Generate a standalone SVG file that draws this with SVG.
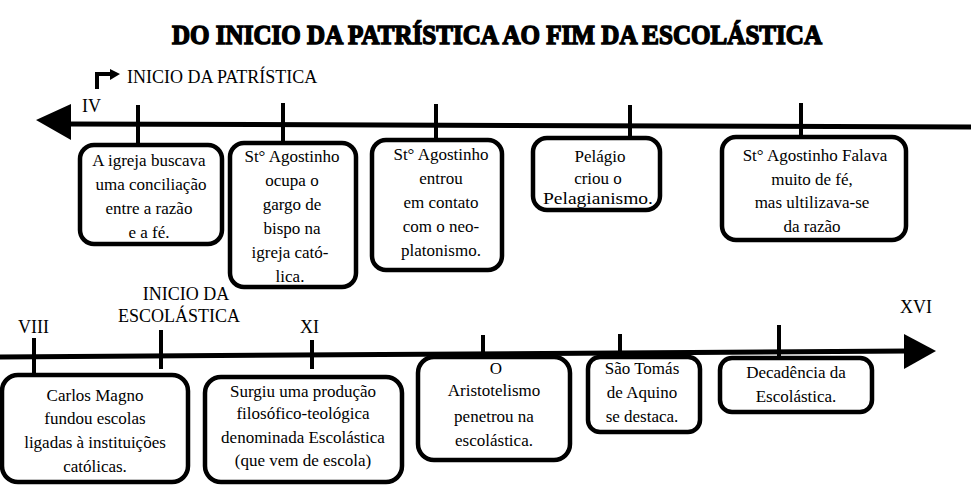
<svg xmlns="http://www.w3.org/2000/svg" width="971" height="487" viewBox="0 0 971 487">
<style>
.t{font-family:'Liberation Serif','Times New Roman',Tinos,'DejaVu Serif',serif;font-size:17px;fill:#000;text-anchor:middle}
.l{font-family:'Liberation Serif','Times New Roman',Tinos,'DejaVu Serif',serif;font-size:18px;fill:#000}
.h{font-family:'Liberation Serif','Times New Roman',Tinos,'DejaVu Serif',serif;font-weight:bold;font-size:28px;fill:#000;text-anchor:middle;stroke:#000;stroke-width:1.5}
.b{fill:#fff;stroke:#000;stroke-width:4.5}
.ln{stroke:#000;stroke-width:5;fill:none}
.tk{stroke:#000;stroke-width:4;fill:none}
</style>
<rect width="971" height="487" fill="#fff"/>
<text class="h" x="497" y="44" textLength="650" lengthAdjust="spacingAndGlyphs">DO INICIO DA PATRÍSTICA AO FIM DA ESCOLÁSTICA</text>
<g id="connectors">
<path class="ln" d="M68 124 L971 127"/>
<polygon points="36,120 71,104 71,140"/>
<path class="ln" d="M0 357 L908 351"/>
<polygon points="936,351 904,334 904,369"/>
<path d="M97 89 V74 H112" stroke="#000" stroke-width="4" fill="none"/>
<polygon points="110,69 120,74 110,80"/>
<path class="tk" d="M138 105V146M283 103V143M436 104V141M630 105V139M801 103V139"/>
<path class="tk" d="M34 338V375M161 330V369M312 340V369M483 335V371M620 334V362M779 325V357"/>
</g>
<text class="l" x="127" y="83">INICIO DA PATRÍSTICA</text>
<text class="l" x="82" y="112">IV</text>
<text class="l" x="18" y="333">VIII</text>
<text class="l" x="186" y="300" text-anchor="middle">INICIO DA</text>
<text class="l" x="179" y="322" text-anchor="middle">ESCOLÁSTICA</text>
<text class="l" x="300" y="333">XI</text>
<text class="l" x="900" y="313">XVI</text>
<g id="n1"><rect class="b" x="80" y="145" width="142" height="99" rx="14"/>
<text class="t" x="149" y="166">A igreja buscava</text><text class="t" x="151" y="190">uma conciliação</text><text class="t" x="149" y="214">entre a razão</text><text class="t" x="149" y="238">e a fé.</text></g>
<g id="n2"><rect class="b" x="230" y="143" width="126" height="144" rx="14"/>
<text class="t" x="292" y="162">St° Agostinho</text><text class="t" x="292" y="186">ocupa o</text><text class="t" x="292" y="210">gargo de</text><text class="t" x="292" y="234">bispo na</text><text class="t" x="290" y="258">igreja cató-</text><text class="t" x="290" y="282">lica.</text></g>
<g id="n3"><rect class="b" x="372" y="140" width="130" height="130" rx="14"/>
<text class="t" x="441" y="160">St° Agostinho</text><text class="t" x="441" y="184">entrou</text><text class="t" x="441" y="208">em contato</text><text class="t" x="441" y="232">com o neo-</text><text class="t" x="441" y="256">platonismo.</text></g>
<g id="n4"><rect class="b" x="533" y="138" width="127" height="72" rx="14"/>
<text class="t" x="600" y="162">Pelágio</text><text class="t" x="598" y="184">criou o</text><text class="t" x="598" y="204" textLength="110" lengthAdjust="spacingAndGlyphs">Pelagianismo.</text></g>
<g id="n5"><rect class="b" x="722" y="137" width="184" height="103" rx="14"/>
<text class="t" x="815" y="161">St° Agostinho Falava</text><text class="t" x="812" y="185">muito de fé,</text><text class="t" x="812" y="208">mas ultilizava-se</text><text class="t" x="812" y="232">da razão</text></g>
<g id="n6"><rect class="b" x="2" y="375" width="186" height="107" rx="16"/>
<text class="t" x="95" y="401">Carlos Magno</text><text class="t" x="95" y="424">fundou escolas</text><text class="t" x="95" y="448">ligadas à instituições</text><text class="t" x="95" y="472">católicas.</text></g>
<g id="n7"><rect class="b" x="205" y="377" width="197" height="105" rx="16"/>
<text class="t" x="303" y="397">Surgiu uma produção</text><text class="t" x="303" y="419">filosófico-teológica</text><text class="t" x="303" y="443">denominada Escolástica</text><text class="t" x="303" y="466">(que vem de escola)</text></g>
<g id="n8"><rect class="b" x="418" y="357" width="152" height="103" rx="16"/>
<text class="t" x="496" y="374">O</text><text class="t" x="494" y="396">Aristotelismo</text><text class="t" x="494" y="422">penetrou na</text><text class="t" x="494" y="446">escolástica.</text></g>
<g id="n9"><rect class="b" x="588" y="357" width="112" height="75" rx="12"/>
<text class="t" x="642" y="374">São Tomás</text><text class="t" x="642" y="398">de Aquino</text><text class="t" x="642" y="422">se destaca.</text></g>
<g id="n10"><rect class="b" x="720" y="358" width="152" height="54" rx="12"/>
<text class="t" x="796" y="378">Decadência da</text><text class="t" x="796" y="402">Escolástica.</text></g>
</svg>
